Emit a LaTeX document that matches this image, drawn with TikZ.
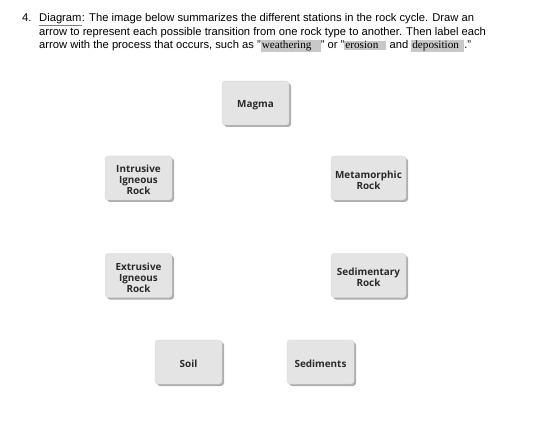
\documentclass[tikz,border=0pt]{standalone}
\usepackage{fontspec}
\setmainfont{Liberation Sans}
\newfontfamily\boxfont{Open Sans}
\newfontfamily\hlfont{Liberation Serif}
\usetikzlibrary{shadows}
\definecolor{boxfill}{HTML}{E4E4E4}
\definecolor{boxtext}{HTML}{2A2A2A}
\definecolor{hlgray}{HTML}{C8C8C8}
\definecolor{shadowgray}{HTML}{9A9A9A}
\newcommand{\hlword}[2]{{\setlength{\fboxsep}{1pt}\colorbox{hlgray}{\makebox[#1][l]{\hlfont\fontsize{11.2}{12}\selectfont #2}}}}
\tikzset{
  stationbox/.style={rectangle, rounded corners=3pt, fill=boxfill,
    draw=white!85!black, line width=0.3pt,
    drop shadow={shadow xshift=2pt, shadow yshift=-2pt, fill=shadowgray, opacity=0.8},
    minimum height=44pt, inner sep=1pt},
  boxlabel/.style={align=center, inner sep=0pt, yshift=-2pt,
    font=\boxfont\bfseries\fontsize{9.9}{11}\selectfont, text=boxtext},
  qtext/.style={anchor=base west, inner sep=0pt, font=\fontsize{11.2}{13}\selectfont}
}
\begin{document}
\begin{tikzpicture}[x=1pt,y=-1pt]
\useasboundingbox (0,0) rectangle (541,422);
% question text
\node[qtext] (num) at (22,22) {4.};
\node[qtext] (diag) at (39,22) {Diagram};
\draw[line width=0.7pt, black!50] ([yshift=-3.2pt]diag.base west) -- ([yshift=-3.2pt]diag.base east);
\node[qtext] (l1) at (diag.base east) {: The image below summarizes the different stations in the rock cycle. Draw an};
\node[qtext] (l2) at (39,35.5)
  {arrow to represent each possible transition from one rock type to another. Then label each};
\node[qtext] (l3) at (39,49)
  {arrow with the process that occurs, such as "\hlword{58pt}{weathering}" or "\hlword{40pt}{erosion} and \hlword{51pt}{deposition}."};
% stations
\node[stationbox, minimum width=67pt, label={[boxlabel]center:Magma}] (magma) at (255.5,103) {};
\node[stationbox, minimum width=67pt, label={[boxlabel]center:{Intrusive\\Igneous\\Rock}}] (intr) at (138.5,178) {};
\node[stationbox, minimum width=75pt, label={[boxlabel]center:{Metamorphic\\Rock}}] (meta) at (368.5,178) {};
\node[stationbox, minimum width=67pt, label={[boxlabel]center:{Extrusive\\Igneous\\Rock}}] (extr) at (138.5,275.5) {};
\node[stationbox, minimum width=75pt, label={[boxlabel]center:{Sedimentary\\Rock}}] (sedr) at (368.5,275.5) {};
\node[stationbox, minimum width=67pt, label={[boxlabel]center:Soil}] (soil) at (188.5,362) {};
\node[stationbox, minimum width=67pt, label={[boxlabel]center:Sediments}] (sedi) at (320.5,362) {};
\end{tikzpicture}
\end{document}
